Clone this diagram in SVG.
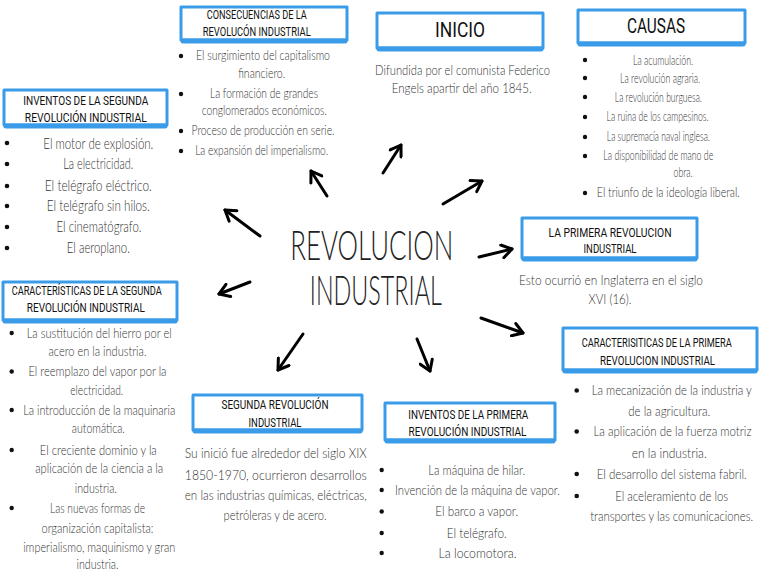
<svg xmlns="http://www.w3.org/2000/svg" width="768" height="576" viewBox="0 0 768 576">
<defs>
<marker id="ah" markerUnits="userSpaceOnUse" markerWidth="16" markerHeight="16" viewBox="0 0 16 16" refX="13" refY="8" orient="auto">
<path d="M3,1.5 L13,8 L3,14.5" fill="none" stroke="#000" stroke-width="3" stroke-linecap="round" stroke-linejoin="round"/>
</marker>
<style>
.box{fill:#fff;stroke:#3a9ce8;stroke-width:3;stroke-linejoin:round}
.bot{stroke:#3a9ce8;stroke-width:5;stroke-linecap:round}
.hd{font-family:"Roboto","Liberation Sans",sans-serif;font-size:12px;fill:#111;text-anchor:middle}
.big{font-family:"Roboto","Liberation Sans",sans-serif;font-size:21px;fill:#111;text-anchor:middle}
.tx{font-family:"Lato","Roboto","Liberation Sans",sans-serif;font-weight:300;font-size:14px;fill:#333;text-anchor:middle}
.t13{font-size:14px}
.t16{font-size:16px}
.ttl{font-family:"Lato","Roboto","Liberation Sans",sans-serif;font-weight:300;font-size:42px;fill:#222;text-anchor:middle}
.bl{fill:#111}
.arr{stroke:#000;stroke-width:3;fill:none;stroke-linecap:round;marker-end:url(#ah)}
</style>
</defs>
<rect width="768" height="576" fill="#fff"/>

<g id="title">
<text class="ttl" x="371.7" y="260" textLength="163" lengthAdjust="spacingAndGlyphs">REVOLUCION</text>
<text class="ttl" x="375.8" y="305" textLength="132" lengthAdjust="spacingAndGlyphs">INDUSTRIAL</text>
</g>

<g id="connectors">
<line class="arr" x1="327" y1="196" x2="311" y2="171"/>
<line class="arr" x1="383" y1="173" x2="401" y2="145"/>
<line class="arr" x1="443" y1="204" x2="482" y2="181"/>
<line class="arr" x1="260" y1="236" x2="225" y2="210"/>
<line class="arr" x1="479" y1="257" x2="512" y2="249"/>
<line class="arr" x1="250" y1="282" x2="219" y2="294"/>
<line class="arr" x1="481" y1="318" x2="523" y2="333"/>
<line class="arr" x1="303" y1="334" x2="278" y2="370"/>
<line class="arr" x1="417" y1="339" x2="430" y2="371"/>
</g>

<g id="consecuencias">
<rect class="box" x="181" y="7" width="166" height="33"/>
<line class="bot" x1="183" y1="41" x2="345" y2="41"/>
<text class="hd" x="256.7" y="19" textLength="100" lengthAdjust="spacingAndGlyphs">CONSECUENCIAS DE LA</text>
<text class="hd" x="256.7" y="36" textLength="108" lengthAdjust="spacingAndGlyphs">REVOLUCÓN INDUSTRIAL</text>
<circle class="bl" cx="181" cy="56" r="2.2"/>
<circle class="bl" cx="181" cy="94" r="2.2"/>
<circle class="bl" cx="181" cy="131" r="2.2"/>
<circle class="bl" cx="181" cy="151" r="2.2"/>
<text class="tx t13" x="263" y="60" textLength="134" lengthAdjust="spacingAndGlyphs">El surgimiento del capitalismo</text>
<text class="tx t13" x="261.7" y="78" textLength="47" lengthAdjust="spacingAndGlyphs">financiero.</text>
<text class="tx t13" x="264" y="97.5" textLength="108" lengthAdjust="spacingAndGlyphs">La formación de grandes</text>
<text class="tx t13" x="264.2" y="114.5" textLength="125" lengthAdjust="spacingAndGlyphs">conglomerados económicos.</text>
<text class="tx t13" x="263" y="135" textLength="143" lengthAdjust="spacingAndGlyphs">Proceso de producción en serie.</text>
<text class="tx t13" x="261.7" y="154.5" textLength="133" lengthAdjust="spacingAndGlyphs">La expansión del imperialismo.</text>
</g>

<g id="inicio">
<rect class="box" x="377" y="13" width="166" height="35"/>
<line class="bot" x1="379" y1="49" x2="541" y2="49"/>
<text class="big" x="460" y="37" textLength="50" lengthAdjust="spacingAndGlyphs">INICIO</text>
<text class="tx" x="462.5" y="74.5" textLength="175" lengthAdjust="spacingAndGlyphs">Difundida por el comunista Federico</text>
<text class="tx" x="461.7" y="93" textLength="140" lengthAdjust="spacingAndGlyphs">Engels apartir del año 1845.</text>
</g>

<g id="causas">
<rect class="box" x="578" y="10" width="167" height="33"/>
<line class="bot" x1="580" y1="44" x2="743" y2="44"/>
<text class="big" x="656" y="33" textLength="58" lengthAdjust="spacingAndGlyphs">CAUSAS</text>
<circle class="bl" cx="585" cy="60" r="2.2"/>
<circle class="bl" cx="585" cy="78" r="2.2"/>
<circle class="bl" cx="585" cy="97" r="2.2"/>
<circle class="bl" cx="585" cy="117" r="2.2"/>
<circle class="bl" cx="585" cy="137" r="2.2"/>
<circle class="bl" cx="585" cy="156" r="2.2"/>
<circle class="bl" cx="585" cy="193" r="2.2"/>
<text class="tx t13" x="663" y="64.5" textLength="60" lengthAdjust="spacingAndGlyphs">La acumulación.</text>
<text class="tx t13" x="660" y="82.5" textLength="80" lengthAdjust="spacingAndGlyphs">La revolución agraria.</text>
<text class="tx t13" x="658.3" y="101.5" textLength="87" lengthAdjust="spacingAndGlyphs">La revolución burguesa.</text>
<text class="tx t13" x="657.5" y="121" textLength="102" lengthAdjust="spacingAndGlyphs">La ruina de los campesinos.</text>
<text class="tx t13" x="658.3" y="141" textLength="103" lengthAdjust="spacingAndGlyphs">La supremacía naval inglesa.</text>
<text class="tx t13" x="658.3" y="160" textLength="110" lengthAdjust="spacingAndGlyphs">La disponibilidad de mano de</text>
<text class="tx t13" x="683" y="177" textLength="19" lengthAdjust="spacingAndGlyphs">obra.</text>
<text class="tx t13" x="668.3" y="197" textLength="143" lengthAdjust="spacingAndGlyphs">El triunfo de la ideología liberal.</text>
</g>

<g id="inventos-segunda">
<rect class="box" x="4" y="90" width="163" height="35"/>
<line class="bot" x1="6" y1="126" x2="165" y2="126"/>
<text class="hd" x="85.8" y="105" textLength="125" lengthAdjust="spacingAndGlyphs">INVENTOS DE LA SEGUNDA</text>
<text class="hd" x="85.8" y="122" textLength="122" lengthAdjust="spacingAndGlyphs">REVOLUCIÓN INDUSTRIAL</text>
<circle class="bl" cx="7" cy="143" r="2.3"/>
<circle class="bl" cx="7" cy="164" r="2.3"/>
<circle class="bl" cx="7" cy="186" r="2.3"/>
<circle class="bl" cx="7" cy="206" r="2.3"/>
<circle class="bl" cx="7" cy="227" r="2.3"/>
<circle class="bl" cx="7" cy="248" r="2.3"/>
<text class="tx t16" x="98.3" y="148.5" textLength="110" lengthAdjust="spacingAndGlyphs">El motor de explosión.</text>
<text class="tx t16" x="98.3" y="169" textLength="70" lengthAdjust="spacingAndGlyphs">La electricidad.</text>
<text class="tx t16" x="98.3" y="191" textLength="107" lengthAdjust="spacingAndGlyphs">El telégrafo eléctrico.</text>
<text class="tx t16" x="98.3" y="211" textLength="103" lengthAdjust="spacingAndGlyphs">El telégrafo sin hilos.</text>
<text class="tx t16" x="99" y="232" textLength="85" lengthAdjust="spacingAndGlyphs">El cinematógrafo.</text>
<text class="tx t16" x="98.3" y="253" textLength="63" lengthAdjust="spacingAndGlyphs">El aeroplano.</text>
</g>

<g id="caracteristicas-segunda">
<rect class="box" x="3" y="282" width="174" height="38"/>
<line class="bot" x1="5" y1="321" x2="175" y2="321"/>
<text class="hd" x="86.7" y="295" textLength="150" lengthAdjust="spacingAndGlyphs">CARACTERÍSTICAS DE LA SEGUNDA</text>
<text class="hd" x="85.8" y="312" textLength="118" lengthAdjust="spacingAndGlyphs">REVOLUCIÓN INDUSTRIAL</text>
<circle class="bl" cx="11.7" cy="333" r="2.2"/>
<circle class="bl" cx="11.7" cy="371.5" r="2.2"/>
<circle class="bl" cx="11.7" cy="410" r="2.2"/>
<circle class="bl" cx="11.7" cy="450" r="2.2"/>
<circle class="bl" cx="11.7" cy="508" r="2.2"/>
<text class="tx" x="99.2" y="337.5" textLength="145" lengthAdjust="spacingAndGlyphs">La sustitución del hierro por el</text>
<text class="tx" x="97.5" y="356" textLength="98" lengthAdjust="spacingAndGlyphs">acero en la industria.</text>
<text class="tx" x="97.5" y="376" textLength="138" lengthAdjust="spacingAndGlyphs">El reemplazo del vapor por la</text>
<text class="tx" x="96.7" y="394.5" textLength="53" lengthAdjust="spacingAndGlyphs">electricidad.</text>
<text class="tx" x="99.2" y="414.5" textLength="152" lengthAdjust="spacingAndGlyphs">La introducción de la maquinaria</text>
<text class="tx" x="98.3" y="433" textLength="53" lengthAdjust="spacingAndGlyphs">automática.</text>
<text class="tx" x="98.3" y="454.5" textLength="117" lengthAdjust="spacingAndGlyphs">El creciente dominio y la</text>
<text class="tx" x="99.2" y="473" textLength="128" lengthAdjust="spacingAndGlyphs">aplicación de la ciencia a la</text>
<text class="tx" x="95.8" y="493" textLength="42" lengthAdjust="spacingAndGlyphs">industria.</text>
<text class="tx" x="97.5" y="512.5" textLength="95" lengthAdjust="spacingAndGlyphs">Las nuevas formas de</text>
<text class="tx" x="97.5" y="532.5" textLength="112" lengthAdjust="spacingAndGlyphs">organización capitalista:</text>
<text class="tx" x="99.2" y="551.5" textLength="152" lengthAdjust="spacingAndGlyphs">imperialismo, maquinismo y gran</text>
<text class="tx" x="97.5" y="568.5" textLength="42" lengthAdjust="spacingAndGlyphs">industria.</text>
</g>

<g id="segunda-revolucion">
<rect class="box" x="193" y="395" width="169" height="35"/>
<line class="bot" x1="195" y1="431" x2="360" y2="431"/>
<text class="hd" x="275" y="409" textLength="107" lengthAdjust="spacingAndGlyphs">SEGUNDA REVOLUCIÓN</text>
<text class="hd" x="275" y="427" textLength="53" lengthAdjust="spacingAndGlyphs">INDUSTRIAL</text>
<text class="tx" x="275.8" y="458" textLength="182" lengthAdjust="spacingAndGlyphs">Su inició fue alrededor del siglo XIX</text>
<text class="tx" x="275.8" y="479.5" textLength="182" lengthAdjust="spacingAndGlyphs">1850-1970, ocurrieron desarrollos</text>
<text class="tx" x="275.8" y="499.5" textLength="182" lengthAdjust="spacingAndGlyphs">en las industrias químicas, eléctricas,</text>
<text class="tx" x="275" y="519.5" textLength="103" lengthAdjust="spacingAndGlyphs">petróleras y de acero.</text>
</g>

<g id="inventos-primera">
<rect class="box" x="385" y="403" width="170" height="37"/>
<line class="bot" x1="387" y1="441" x2="553" y2="441"/>
<text class="hd" x="468.3" y="418.5" textLength="120" lengthAdjust="spacingAndGlyphs">INVENTOS DE LA PRIMERA</text>
<text class="hd" x="467.5" y="436" textLength="118" lengthAdjust="spacingAndGlyphs">REVOLUCIÓN INDUSTRIAL</text>
<circle class="bl" cx="381.7" cy="470" r="2.2"/>
<circle class="bl" cx="381.7" cy="490" r="2.2"/>
<circle class="bl" cx="381.7" cy="511.5" r="2.2"/>
<circle class="bl" cx="381.7" cy="533" r="2.2"/>
<circle class="bl" cx="381.7" cy="553" r="2.2"/>
<text class="tx" x="476.7" y="474.5" textLength="97" lengthAdjust="spacingAndGlyphs">La máquina de hilar.</text>
<text class="tx" x="477.5" y="494.5" textLength="165" lengthAdjust="spacingAndGlyphs">Invención de la máquina de vapor.</text>
<text class="tx" x="476.7" y="516" textLength="83" lengthAdjust="spacingAndGlyphs">El barco a vapor.</text>
<text class="tx" x="476.7" y="537.5" textLength="60" lengthAdjust="spacingAndGlyphs">El telégrafo.</text>
<text class="tx" x="477.5" y="557.5" textLength="78" lengthAdjust="spacingAndGlyphs">La locomotora.</text>
</g>

<g id="primera-revolucion">
<rect class="box" x="522" y="218" width="175" height="40"/>
<line class="bot" x1="524" y1="259" x2="695" y2="259"/>
<text class="hd" x="610" y="236.7" textLength="123" lengthAdjust="spacingAndGlyphs">LA PRIMERA REVOLUCION</text>
<text class="hd" x="610" y="253.3" textLength="53" lengthAdjust="spacingAndGlyphs">INDUSTRIAL</text>
<text class="tx" x="611" y="284.5" textLength="184" lengthAdjust="spacingAndGlyphs">Esto ocurrió en Inglaterra en el siglo</text>
<text class="tx" x="610" y="304" textLength="43" lengthAdjust="spacingAndGlyphs">XVI (16).</text>
</g>

<g id="caracteristicas-primera">
<rect class="box" x="563" y="328" width="194" height="42"/>
<line class="bot" x1="565" y1="371" x2="755" y2="371"/>
<text class="hd" x="656.7" y="347.3" textLength="150" lengthAdjust="spacingAndGlyphs">CARACTERISITICAS DE LA PRIMERA</text>
<text class="hd" x="657.5" y="365" textLength="115" lengthAdjust="spacingAndGlyphs">REVOLUCION INDUSTRIAL</text>
<circle class="bl" cx="576.7" cy="390.5" r="2.3"/>
<circle class="bl" cx="576.7" cy="431.5" r="2.3"/>
<circle class="bl" cx="576.7" cy="474" r="2.3"/>
<circle class="bl" cx="576.7" cy="496" r="2.3"/>
<text class="tx" x="671.7" y="395" textLength="160" lengthAdjust="spacingAndGlyphs">La mecanización de la industria y</text>
<text class="tx" x="669.2" y="415.5" textLength="82" lengthAdjust="spacingAndGlyphs">de la agricultura.</text>
<text class="tx" x="672.5" y="436" textLength="158" lengthAdjust="spacingAndGlyphs">La aplicación de la fuerza motriz</text>
<text class="tx" x="669.2" y="457.5" textLength="75" lengthAdjust="spacingAndGlyphs">en la industria.</text>
<text class="tx" x="671.7" y="478.5" textLength="150" lengthAdjust="spacingAndGlyphs">El desarrollo del sistema fabril.</text>
<text class="tx" x="671.7" y="500.5" textLength="113" lengthAdjust="spacingAndGlyphs">El aceleramiento de los</text>
<text class="tx" x="671.7" y="521" textLength="163" lengthAdjust="spacingAndGlyphs">transportes y las comunicaciones.</text>
</g>
</svg>
